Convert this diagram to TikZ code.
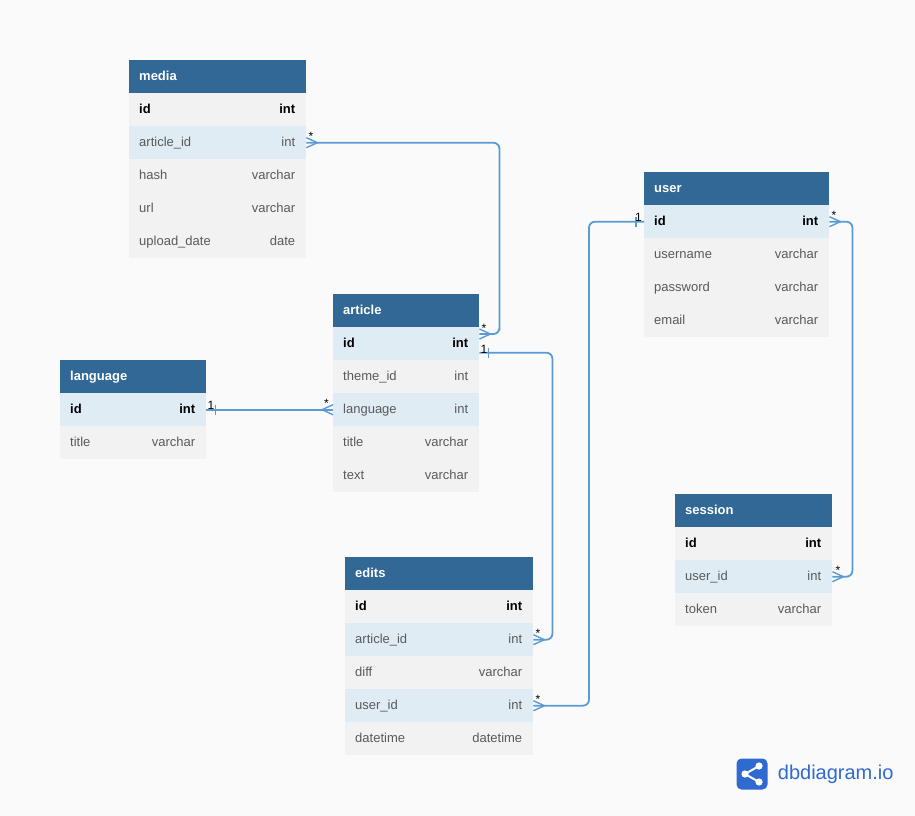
\documentclass[tikz,border=0pt]{standalone}
\usepackage{fontspec}
\setmainfont{Liberation Sans}
\definecolor{bg}{HTML}{FAFAFA}
\definecolor{hdrc}{HTML}{316896}
\definecolor{rowg}{HTML}{F2F2F2}
\definecolor{rowb}{HTML}{DFECF4}
\definecolor{linec}{HTML}{5B9BD5}
\definecolor{txtg}{HTML}{5A5A5A}
\definecolor{logoc}{HTML}{2F6AD0}
\tikzset{
 cell/.style={rectangle,inner sep=0pt,minimum height=33pt,anchor=north west},
 tx/.style={inner sep=0pt,text height=9.5pt,text depth=2.5pt},
 tb/.style={tx,font=\fontsize{13}{15}\selectfont\bfseries,text=black},
 tn/.style={tx,font=\fontsize{13}{15}\selectfont,text=txtg},
 ttl/.style={tx,font=\fontsize{13}{15}\selectfont\bfseries,text=white,anchor=west},
 rel/.style={draw=linec,line width=1.8pt},
 mk/.style={font=\fontsize{12}{13}\selectfont,text=black,inner sep=1pt},
 mks/.style={font=\fontsize{12}{13}\selectfont,text=black,inner sep=1pt}
}
\newcommand\tbl[5]{%
 \node[cell,fill=hdrc,minimum width=#4pt] (#1) at (#2,#3) {};
 \node[ttl] (#1-t) at ([xshift=10pt]#1.west) {#1};
 \foreach[count=\i] \n/\t/\f/\b in {#5} {
  \node[cell,fill=\f,minimum width=#4pt] (#1-\i) at (#2,{#3+33*\i}) {};
  \node[\b,anchor=west] (#1-\i-n) at ([xshift=10pt]#1-\i.west) {\n};
  \node[\b,anchor=east] (#1-\i-t) at ([xshift=-11pt]#1-\i.east) {\t};
 }}
\newcommand\crow[2]{\draw[rel,line width=1.4pt] ([yshift=5pt]#1) -- ([xshift=#2]#1) -- ([yshift=-5pt]#1);}
\newcommand\onebar[2]{\draw[rel,line width=1.4pt] ([xshift=#2,yshift=5pt]#1) -- ([xshift=#2,yshift=-5pt]#1);}
\begin{document}
\begin{tikzpicture}[x=1pt,y=-1pt]
\fill[bg] (0,0) rectangle (915,816);
\useasboundingbox (0,0) rectangle (915,816);
\tbl{media}{129}{60}{177}{id/int/rowg/tb,article\_id/int/rowb/tn,hash/varchar/rowg/tn,url/varchar/rowg/tn,upload\_date/date/rowg/tn}
\tbl{article}{333}{294}{146}{id/int/rowb/tb,theme\_id/int/rowg/tn,language/int/rowb/tn,title/varchar/rowg/tn,text/varchar/rowg/tn}
\tbl{language}{60}{360}{146}{id/int/rowb/tb,title/varchar/rowg/tn}
\tbl{user}{644}{172}{185}{id/int/rowb/tb,username/varchar/rowg/tn,password/varchar/rowg/tn,email/varchar/rowg/tn}
\tbl{session}{675}{494}{157}{id/int/rowg/tb,user\_id/int/rowb/tn,token/varchar/rowg/tn}
\tbl{edits}{345}{557}{188}{id/int/rowg/tb,article\_id/int/rowb/tn,diff/varchar/rowg/tn,user\_id/int/rowb/tn,datetime/datetime/rowg/tn}
% connectors
\coordinate (e1) at ([yshift=-7pt]article-1.north east);
\draw[rel,rounded corners=6pt] (media-2.east) -| ([xshift=20pt]e1) |- (e1);
\coordinate (s2) at ([yshift=-9pt]article-1.east);
\draw[rel,rounded corners=6pt] (s2) -| ([xshift=19pt]edits-2.east) -- (edits-2.east);
\draw[rel] (language-1.east) -- (article-3.west);
\draw[rel,rounded corners=6pt] (user-1.west) -- ([xshift=-55pt]user-1.west) |- (edits-4.east);
\draw[rel,rounded corners=6pt] (user-1.east) -- ([xshift=23pt]user-1.east) |- (session-2.east);
% end marks
\crow{media-2.east}{11pt}
\crow{e1}{11pt}
\onebar{s2}{9pt}
\crow{edits-2.east}{11pt}
\onebar{language-1.east}{9pt}
\crow{article-3.west}{-11pt}
\onebar{user-1.west}{-8pt}
\crow{edits-4.east}{11pt}
\crow{user-1.east}{11pt}
\crow{session-2.east}{11pt}
\node[mks,anchor=south west] (m1) at ([xshift=1pt,yshift=1pt]media-2.east) {*};
\node[mks,anchor=south west] (m2) at ([xshift=1pt,yshift=0pt]e1) {*};
\node[mk,anchor=north west] (m3) at ([xshift=0pt,yshift=9pt]s2) {1};
\node[mks,anchor=south west] (m4) at ([xshift=1pt,yshift=1pt]edits-2.east) {*};
\node[mk,anchor=south west] (m5) at ([xshift=0pt,yshift=-1pt]language-1.east) {1};
\node[mks,anchor=south east] (m6) at ([xshift=-3pt,yshift=1pt]article-3.west) {*};
\node[mk,anchor=south east] (m7) at ([xshift=-1pt,yshift=-1pt]user-1.west) {1};
\node[mks,anchor=south west] (m8) at ([xshift=1pt,yshift=1pt]edits-4.east) {*};
\node[mks,anchor=south west] (m9) at ([xshift=1pt,yshift=1pt]user-1.east) {*};
\node[mks,anchor=south west] (m10) at ([xshift=2pt,yshift=1pt]session-2.east) {*};
% logo
\node[rectangle,rounded corners=5pt,fill=logoc,minimum size=31pt,inner sep=0pt] (logo) at (752,774) {};
\fill[white] (745,774) circle (3.6pt) (759,766) circle (3.6pt) (759,782) circle (3.6pt);
\draw[white,line width=2pt] (759,766) -- (745,774) -- (759,782);
\node[anchor=west,text=logoc,font=\fontsize{20}{22}\selectfont,inner sep=0pt] (brand) at ([xshift=10pt]logo.east) {dbdiagram.io};
\end{tikzpicture}
\end{document}
